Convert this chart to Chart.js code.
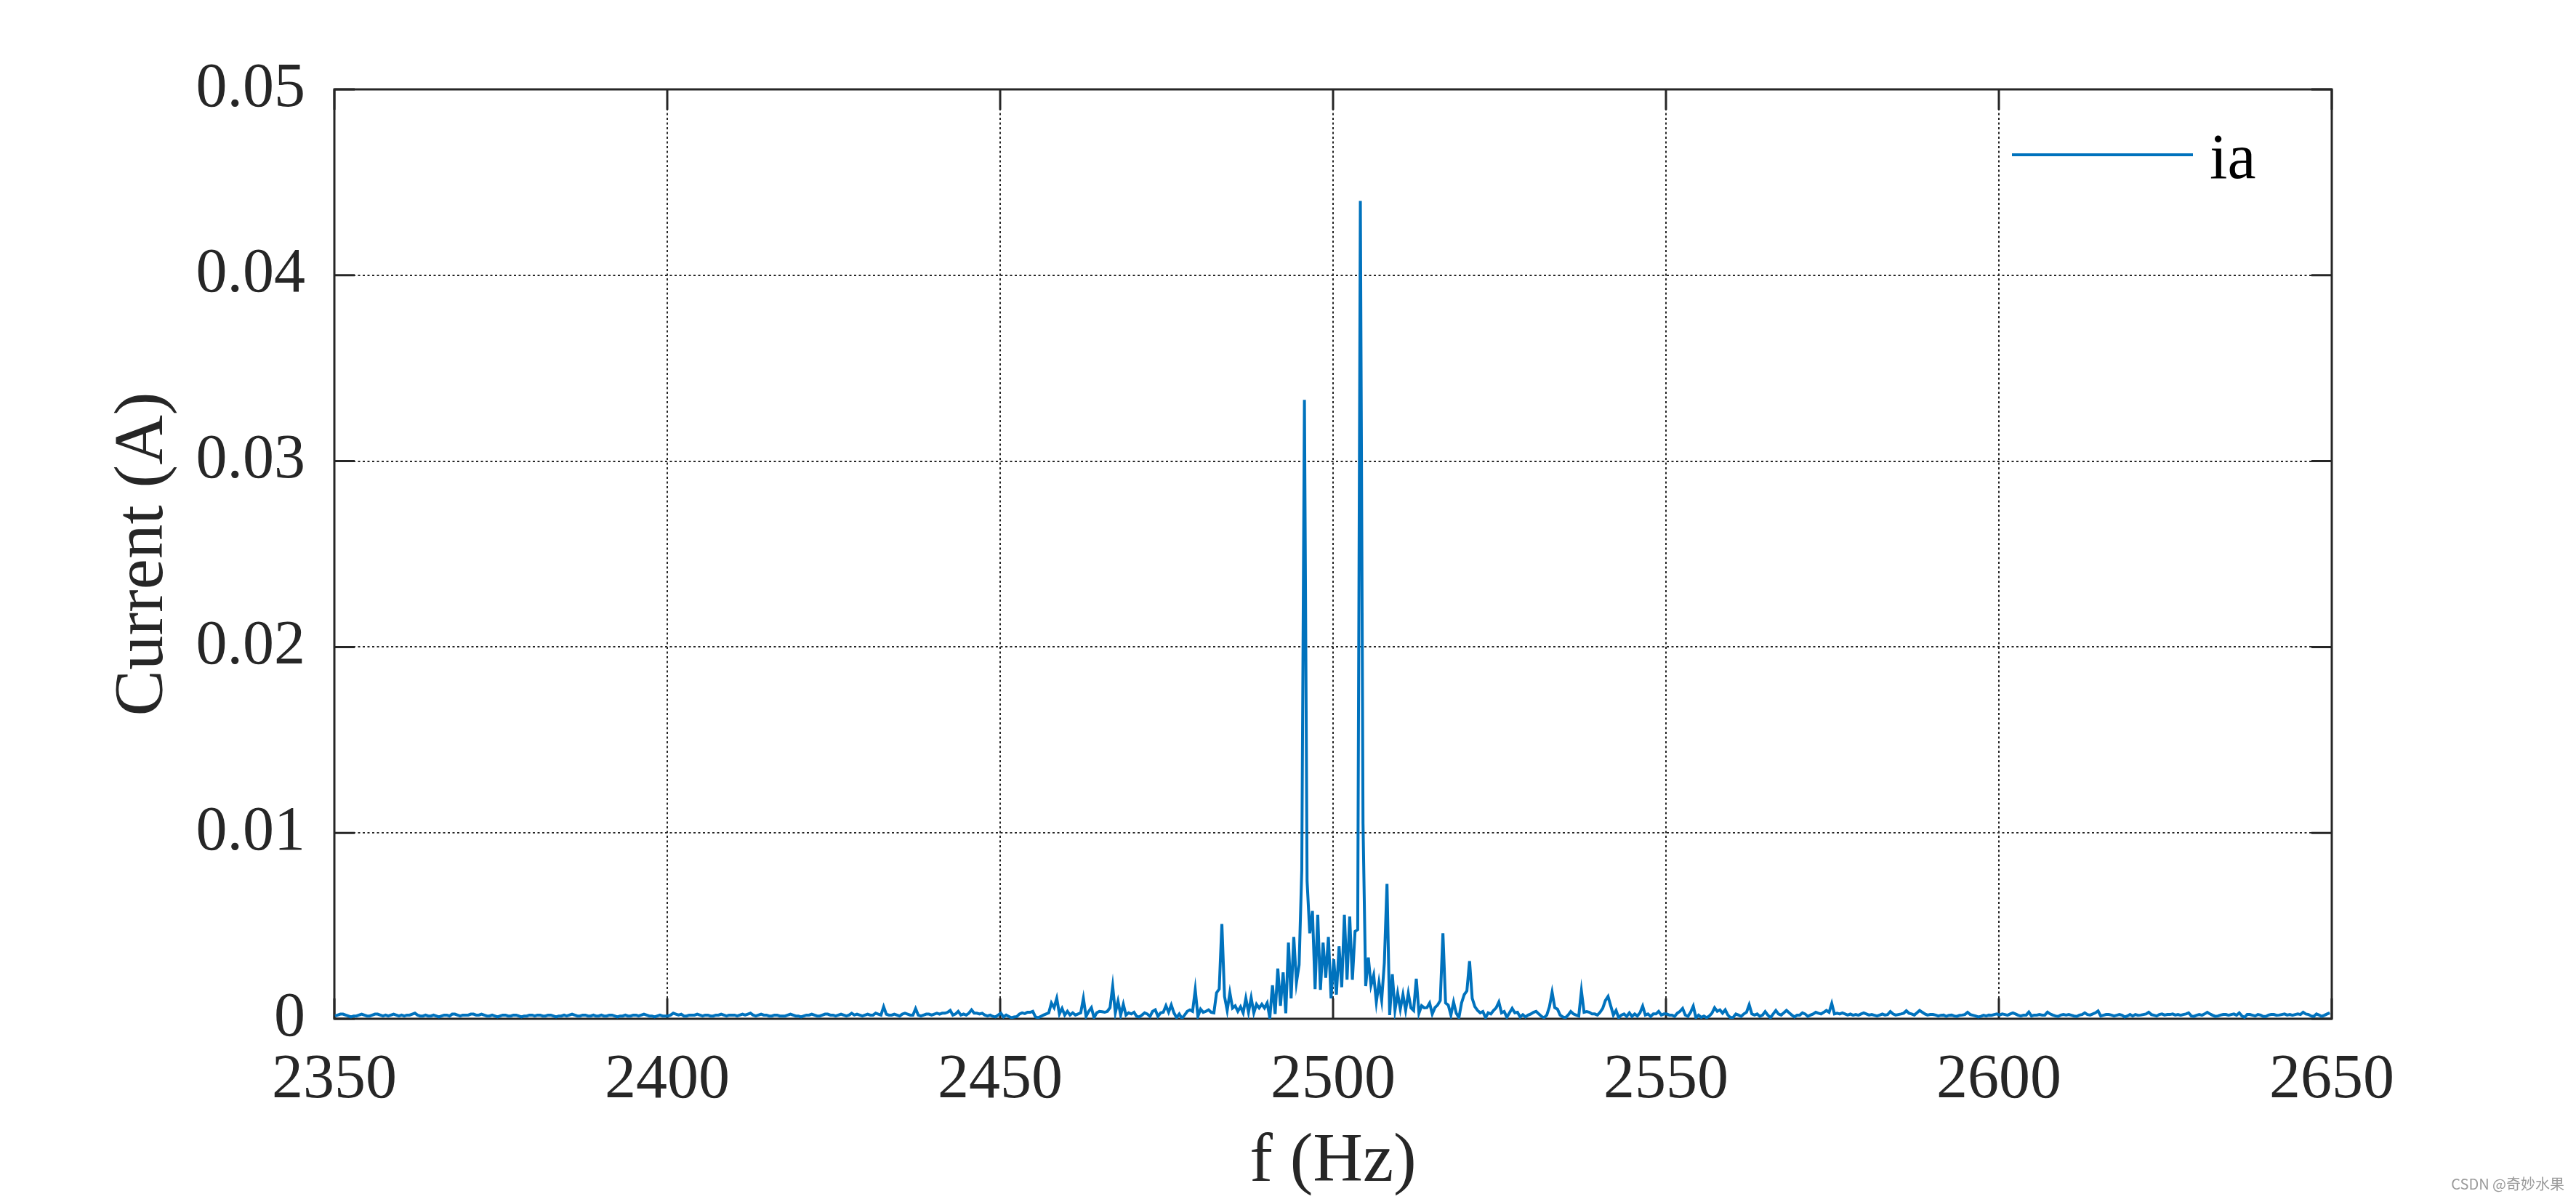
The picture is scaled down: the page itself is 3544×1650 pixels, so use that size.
<!DOCTYPE html>
<html>
<head>
<meta charset="utf-8">
<title>ia spectrum</title>
<script src="https://cdn.jsdelivr.net/npm/chart.js@4.4.1/dist/chart.umd.min.js"></script>
<style>
  html, body { margin: 0; padding: 0; background: #fff; }
  #wrap { width: 3544px; height: 1650px; }
</style>
</head>
<body>
<div id="wrap"><canvas id="spectre" width="3544" height="1650"></canvas></div>
<script>
(function () {
  'use strict';

  // FFT bins: 0.4 Hz apart, first bin at 2350.1 Hz
  var binStart = 2350.1;
  var binStep = 0.4;

  // amplitude of ia (A), one array per 50 Hz band, 25 bins per row (10 Hz)
  var ia2350 = [
    .00015,.0002,.00025,.00025,.0002,.00015,.0001,.00015,.00015,.0002,.00025,.0002,.00015,.00015,.0002,.00025,.00025,.0002,.00015,.0002,.00015,.0002,.00025,.0002,.00015,
    .0002,.00015,.0002,.0002,.00025,.0003,.0002,.00015,.00015,.0002,.00015,.00015,.0002,.00015,.0001,.00015,.0002,.0002,.00015,.00025,.00025,.0002,.00015,.0002,.0002,
    .0002,.00025,.00025,.0002,.0002,.00025,.0002,.00015,.00015,.0002,.00015,.0001,.00015,.0002,.0002,.00015,.00015,.0002,.0002,.00015,.0001,.00015,.00015,.0002,.0002,
    .00015,.0002,.0002,.00015,.00015,.0002,.0002,.00015,.0001,.00015,.00015,.0002,.00015,.0002,.00025,.0002,.00015,.00015,.0002,.0002,.00015,.00015,.0002,.00015,.00015,
    .0002,.00015,.00015,.0002,.0002,.00015,.0001,.00015,.00015,.0002,.00015,.00015,.0002,.0002,.00015,.0002,.00025,.0002,.00015,.00015,.0001,.00015,.0002,.00015,.00015
  ];
  var ia2400 = [
    .00015,.0002,.0003,.00025,.0002,.00025,.00015,.00015,.0002,.0002,.0002,.00025,.0002,.00015,.0002,.0002,.00015,.00015,.0002,.0002,.00025,.0002,.00015,.0002,.0002,
    .0002,.00015,.0002,.00025,.0002,.00025,.0003,.0002,.00015,.0002,.00025,.0002,.0002,.00015,.00015,.0002,.0002,.00015,.00015,.00015,.0002,.00025,.0002,.00015,.00015,
    .0001,.00015,.0002,.0002,.00025,.0002,.00015,.00015,.0002,.00025,.00025,.0002,.0002,.00015,.0002,.00025,.0002,.00015,.0002,.0003,.0002,.00025,.0002,.00015,.0002,
    .00025,.0002,.0002,.0003,.00025,.0002,.00065,.00025,.0002,.0002,.00025,.0002,.00015,.00025,.0003,.00025,.0002,.0002,.00055,.0002,.00015,.0002,.00025,.00025,.0002,
    .00025,.0003,.00025,.0003,.0003,.00035,.00045,.0002,.00026,.0004,.0002,.00026,.0002,.0003,.00048,.0003,.0003,.00026,.0003,.0002,.00015,.0002,.00013,.0001,.0002
  ];
  var ia2450 = [
    .0003,.0001,.0002,.00013,.00006,.0001,.00012,.00026,.00032,.00028,.00035,.00035,.0004,.0001,.00006,.00013,.0002,.00026,.00032,.00085,.0006,.0011,.00026,.00056,.0002,
    .0004,.0002,.00032,.0002,.00026,.00032,.0011,.00013,.0004,.0006,.00006,.00032,.0004,.00038,.00035,.0004,.0006,.00175,.00032,.00095,.0002,.00078,.0002,.00032,.00026,
    .00035,.00013,.0001,.0002,.00032,.00026,.00013,.0004,.00048,.00013,.00032,.00035,.0007,.00035,.00074,.00032,.00006,.00026,.00002,.0002,.0004,.00048,.0004,.00156,.00013,
    .00052,.00035,.0004,.00048,.00035,.00032,.0014,.0016,.0051,.0012,.00045,.0014,.00058,.0007,.0004,.00065,.00032,.0011,.00035,.00113,.00032,.00078,.00058,.00078,.00058,
    .00085,.00005,.0018,.00026,.0027,.0007,.0025,.0003,.0041,.0011,.0044,.00195,.0029,.008,.0333,.0074,.0046,.0058,.0016,.0056,.00156,.0041,.0022,.0044,.0011
  ];
  var ia2500 = [
    .0032,.0013,.0039,.0017,.0056,.0021,.0055,.0021,.0047,.0048,.044,.0105,.00176,.0033,.0018,.00235,.0009,.00195,.001,.003,.00726,.0002,.0024,.00046,.00137,
    .00052,.0013,.00046,.00137,.00059,.00045,.00215,.0003,.0007,.00059,.0006,.00085,.00026,.0006,.00074,.00098,.0046,.00085,.00074,.0002,.0009,.0003,.00006,.00085,.0013,
    .0015,.0031,.0011,.00065,.00045,.00032,.00039,.00006,.00032,.00026,.00045,.00059,.0009,.00032,.00039,.00008,.00032,.00056,.00032,.00035,.0001,.00022,.0001,.0002,.00026,
    .00035,.0004,.00026,.00013,.00006,.0002,.00065,.00143,.0006,.00052,.0002,.0001,.00006,.0002,.00039,.00026,.0002,.00015,.0015,.00035,.00039,.00035,.00026,.00026,.0002,
    .00035,.00056,.00098,.0012,.0007,.0002,.00045,.00006,.0002,.00026,.00013,.00032,.00013,.00026,.00015,.00032,.00068,.0002,.00026,.00013,.00026,.00026,.0004,.0002,.00026
  ];
  var ia2550 = [
    .00026,.0002,.0002,.00013,.0003,.0004,.00056,.0002,.00013,.00035,.00068,.00006,.0002,.00008,.00015,.00006,.00015,.0003,.00059,.0004,.00048,.0003,.00048,.0002,.00006,
    .00008,.00026,.0002,.00013,.00026,.00035,.00075,.00026,.0002,.00026,.00013,.0002,.00039,.0002,.00006,.00026,.00045,.00026,.0002,.00032,.00045,.00032,.0002,.0001,.0002,
    .0002,.00032,.00026,.00013,.0002,.00026,.00035,.0003,.00026,.00035,.00045,.00035,.00082,.00026,.0003,.00026,.00032,.00026,.0002,.00026,.00019,.00023,.00019,.00026,.00032,
    .00026,.0002,.00023,.00019,.00015,.0002,.00026,.0002,.00023,.00039,.00026,.0002,.00023,.00026,.0003,.00043,.0003,.00026,.0002,.00032,.00045,.00035,.00026,.0002,.00023,
    .00023,.0002,.00015,.00019,.0002,.00013,.00019,.0002,.00015,.00013,.00019,.0002,.00023,.00035,.00023,.00019,.00015,.0001,.00013,.00019,.00015,.0002,.00019,.00023,.00026
  ];
  var ia2600 = [
    .0002,.00026,.00023,.00019,.00026,.00032,.00026,.00019,.00015,.0002,.0002,.00036,.00015,.0002,.0002,.00023,.0002,.0002,.00036,.00026,.0002,.00015,.00013,.0002,.00023,
    .0002,.00023,.00019,.00015,.00013,.0002,.00023,.00032,.00023,.0002,.00026,.00032,.00042,.00015,.00019,.00023,.00023,.0002,.00015,.00019,.00023,.00019,.0001,.00015,.00023,
    .00015,.00023,.00019,.0002,.00023,.00026,.00035,.00023,.00019,.00015,.00023,.00026,.0002,.00023,.00023,.00026,.0002,.00023,.00019,.00023,.00026,.00032,.00015,.00013,.00019,
    .00023,.00019,.00026,.00035,.00026,.00019,.00013,.00015,.0002,.00023,.00023,.00019,.00023,.00026,.00019,.00032,.00015,.00008,.00023,.00023,.00019,.00015,.00023,.0002,.00013,
    .00013,.0002,.00023,.00023,.00019,.0002,.00023,.00026,.0002,.00023,.00019,.00023,.00026,.00023,.00035,.00026,.00023,.00015,.00013,.00026,.0002,.00013,.00019,.00026,.00032
  ];

  var xTicks = [2350, 2400, 2450, 2500, 2550, 2600, 2650];
  var yTicks = [0, 0.01, 0.02, 0.03, 0.04, 0.05];

  var ink = '#262626';
  var blue = '#0072BD';
  var serif = '"Liberation Serif", "Times New Roman", serif';

  var amps = [].concat(ia2350, ia2400, ia2450, ia2500, ia2550, ia2600);
  var points = amps.map(function (a, i) {
    return { x: Math.round((binStart + i * binStep) * 10) / 10, y: a };
  });

  // cadre, graduations vers l'intérieur, légende, filigrane
  var axesBox = {
    id: 'axesBox',
    beforeDraw: function (chart) {
      var c = chart.ctx;
      c.save();
      c.fillStyle = '#fff';
      c.fillRect(0, 0, chart.width, chart.height);
      c.restore();
    },
    beforeDatasetsDraw: function (chart) {
      var c = chart.ctx, a = chart.chartArea;
      var sx = chart.scales.x, sy = chart.scales.y, tl = 28;
      c.save();
      c.strokeStyle = ink;
      c.lineWidth = 3;
      c.strokeRect(a.left, a.top, a.right - a.left, a.bottom - a.top);
      c.beginPath();
      xTicks.forEach(function (v) {
        var px = sx.getPixelForValue(v);
        c.moveTo(px, a.bottom); c.lineTo(px, a.bottom - tl);
        c.moveTo(px, a.top); c.lineTo(px, a.top + tl);
      });
      yTicks.forEach(function (v) {
        var py = sy.getPixelForValue(v);
        c.moveTo(a.left, py); c.lineTo(a.left + tl, py);
        c.moveTo(a.right, py); c.lineTo(a.right - tl, py);
      });
      c.stroke();
      c.restore();
    },
    afterDraw: function (chart) {
      var c = chart.ctx, a = chart.chartArea, ds = chart.data.datasets[0];
      c.save();
      c.strokeStyle = ds.borderColor;
      c.lineWidth = ds.borderWidth;
      c.beginPath();
      c.moveTo(a.right - 440, a.top + 90);
      c.lineTo(a.right - 191, a.top + 90);
      c.stroke();
      c.fillStyle = '#000';
      c.font = '88px ' + serif;
      c.textBaseline = 'alphabetic';
      c.fillText(ds.label, a.right - 168, a.top + 122);

      c.fillStyle = '#9a9a9a';
      c.font = '20px "Noto Sans CJK SC", sans-serif';
      c.textAlign = 'right';
      c.fillText('CSDN @奇妙水果', 3528, 1637);
      c.restore();
    }
  };

  new Chart(document.getElementById('spectre'), {
    type: 'line',
    data: {
      datasets: [{
        label: 'ia',
        data: points,
        borderColor: blue,
        borderWidth: 4,
        pointRadius: 0,
        fill: false,
        tension: 0
      }]
    },
    options: {
      responsive: false,
      devicePixelRatio: 1,
      animation: false,
      events: [],
      layout: { padding: { left: 151, right: 336, top: 123, bottom: 2 } },
      plugins: { legend: { display: false }, tooltip: { enabled: false } },
      scales: {
        x: {
          type: 'linear',
          min: 2350,
          max: 2650,
          afterBuildTicks: function (s) { s.ticks = xTicks.map(function (v) { return { value: v }; }); },
          afterFit: function (s) { s.height = 1650 - 2 - 1402; },
          ticks: {
            padding: 34,
            maxRotation: 0,
            color: ink,
            font: { family: serif, size: 86, lineHeight: 1.2 },
            callback: function (v) { return String(v); }
          },
          grid: { color: ink, lineWidth: 2, drawTicks: false },
          border: { display: false, dash: [3, 3.5] },
          title: { display: true, text: 'f (Hz)', color: ink, padding: 0, font: { family: serif, size: 95, lineHeight: 1 } }
        },
        y: {
          min: 0,
          max: 0.05,
          afterBuildTicks: function (s) { s.ticks = yTicks.map(function (v) { return { value: v }; }); },
          afterFit: function (s) { s.width = 460 - 151; },
          ticks: {
            padding: 40,
            color: ink,
            font: { family: serif, size: 86, lineHeight: 1.2 },
            callback: function (v) { return v === 0 ? '0' : v.toFixed(2); }
          },
          grid: { color: ink, lineWidth: 2, drawTicks: false },
          border: { display: false, dash: [3, 3.5] },
          title: { display: true, text: 'Current (A)', color: ink, padding: 0, font: { family: serif, size: 95, lineHeight: 1 } }
        }
      }
    },
    plugins: [axesBox]
  });
})();
</script>
</body>
</html>
